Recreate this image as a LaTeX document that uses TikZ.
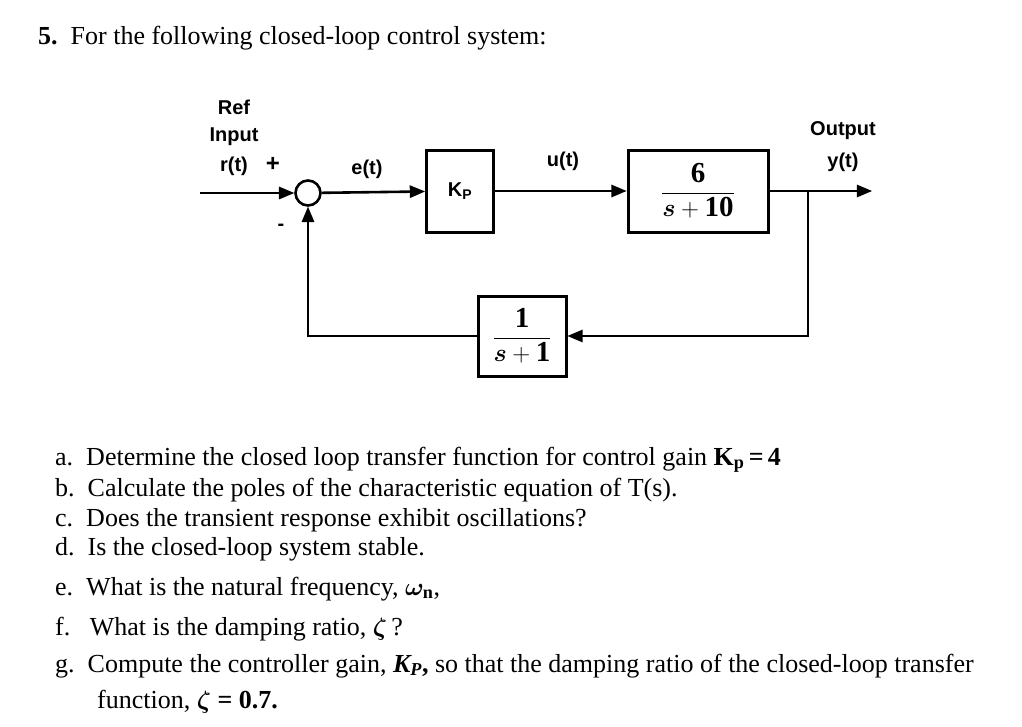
\documentclass[tikz,border=0pt]{standalone}
\usepackage{fontspec}
\usepackage{amsmath,amssymb,bm}
\setmainfont{Liberation Serif}
\newfontfamily\diasans{Liberation Sans}
\usetikzlibrary{arrows,positioning}
\tikzstyle{block}=[draw,line width=3pt,inner sep=0pt]
\tikzstyle{sig}=[line width=2.6pt,->,>=triangle 45]
\tikzstyle{lbl}=[font=\diasans\bfseries\fontsize{20}{22}\selectfont,inner sep=0pt]
\tikzstyle{item}=[anchor=base west,font=\fontsize{26}{28}\selectfont,inner sep=0pt]
\begin{document}
\begin{tikzpicture}[x=1pt,y=-1pt]
\useasboundingbox (0,0) rectangle (1022,726);
\node[item] (title) at (38,44) {\textbf{5.}\ \ For the following closed-loop control system:};

% diagram
\coordinate (in) at (200,193);
\node (sum) [draw,circle,line width=2.6pt,minimum size=25pt,inner sep=0pt] at (308,193) {};
\node (kp) [block,minimum width=67pt,minimum height=82pt] at (460,191) {\diasans\bfseries\fontsize{20}{22}\selectfont K\textsubscript{P}};
\node (plant) [block,minimum width=140pt,minimum height=82pt] at (698,191) {\fontsize{29}{30}\selectfont$\dfrac{\mathbf{6}}{\bm{s}+\mathbf{10}}$};
\node (fb) [block,minimum width=88pt,minimum height=80pt] at (522,336) {\fontsize{29}{30}\selectfont$\dfrac{\mathbf{1}}{\bm{s}+\mathbf{1}}$};
\coordinate (br) at (808,191);
\coordinate (out) at (872,191);

\draw[sig] (in) -- (sum);
\draw[sig] (sum) -- (kp);
\draw[sig] (kp) -- (plant);
\draw[sig] (plant) -- (out);
\draw[sig] (br) |- (fb);
\draw[sig] (fb) -| (sum);

\node[lbl] (ref) at (234,107) {Ref};
\node[lbl] (inp) at (234,137) {Input};
\node[lbl] (rt) at (234,166) {r(t)};
\node[lbl] (plus) at (273,164) {\fontsize{24}{24}\selectfont +};
\node[lbl] (minus) at (281,227) {-};
\node[lbl] (et) at (367,169) {e(t)};
\node[lbl] (ut) at (563,161) {u(t)};
\node[lbl] (outp) at (843,131) {Output};
\node[lbl] (yt) at (843,162) {y(t)};

% questions
\node[item] (qa) at (55,465) {a.\ \ Determine the closed loop transfer function for control gain \textbf{K\textsubscript{p}\,=\,4}};
\node[item] (qb) at (55,496) {b.\ \ Calculate the poles of the characteristic equation of T(s).};
\node[item] (qc) at (55,526) {c.\ \ Does the transient response exhibit oscillations?};
\node[item] (qd) at (55,555) {d.\ \ Is the closed-loop system stable.};
\node[item] (qe) at (55,595) {e.\ \ What is the natural frequency, $\bm{\omega}_{\mathbf{n}}$,};
\node[item] (qf) at (55,635) {f.\ \ \ What is the damping ratio, $\bm{\zeta}$\,?};
\node[item] (qg) at (55,672) {g.\ \ Compute the controller gain, \textbf{\textit{K\textsubscript{P}},} so that the damping ratio of the closed-loop transfer};
\node[item] (qg2) at (97,708) {function, $\bm{\zeta}$ \textbf{= 0.7.}};
\end{tikzpicture}
\end{document}
